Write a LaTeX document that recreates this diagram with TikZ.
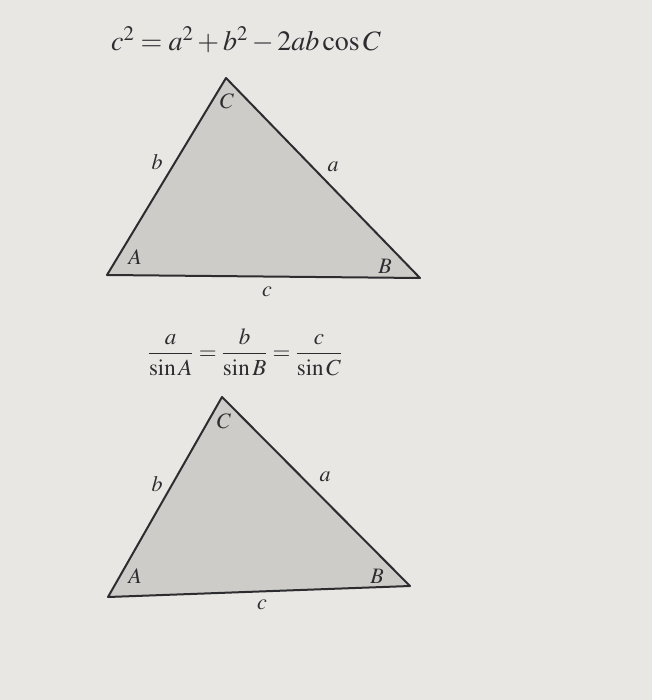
\documentclass[tikz,border=0pt]{standalone}
\usepackage{mathptmx}
\definecolor{pagebg}{RGB}{232,231,228}
\definecolor{trifill}{RGB}{206,204,201}
\definecolor{ink}{RGB}{45,45,48}
\begin{document}
\begin{tikzpicture}[x=1pt, y=-1pt, line join=round, line cap=round, font=\fontsize{22}{26}\selectfont, text=ink]
\tikzset{tri/.style={draw=ink, fill=trifill, line width=2pt}}
\fill[pagebg] (0,0) rectangle (652,700);
% law of cosines
\node[font=\fontsize{28}{32}\selectfont] (cosrule) at (246,40) {$c^2 = a^2 + b^2 - 2ab\cos C$};
\coordinate (A1) at (107,275);
\coordinate (C1) at (226,78);
\coordinate (B1) at (420,278);
\draw[tri] (A1) -- (C1) -- (B1) -- cycle;
\node (lC1) at (227,101) {$C$};
\node (lb1) at (157,162) {$b$};
\node (la1) at (333,167) {$a$};
\node (lA1) at (135,257) {$A$};
\node (lB1) at (385,266) {$B$};
\node (lc1) at (267,292) {$c$};
% law of sines
\node[font=\fontsize{23}{27}\selectfont] (sinrule) at (245,352) {$\displaystyle\frac{a}{\sin A} = \frac{b}{\sin B} = \frac{c}{\sin C}$};
\coordinate (A2) at (108,597);
\coordinate (C2) at (222,397);
\coordinate (B2) at (410,586);
\draw[tri] (A2) -- (C2) -- (B2) -- cycle;
\node (lC2) at (224,421) {$C$};
\node (lb2) at (157,484) {$b$};
\node (la2) at (325,477) {$a$};
\node (lA2) at (135,576) {$A$};
\node (lB2) at (377,576) {$B$};
\node (lc2) at (262,605) {$c$};
\end{tikzpicture}
\end{document}
